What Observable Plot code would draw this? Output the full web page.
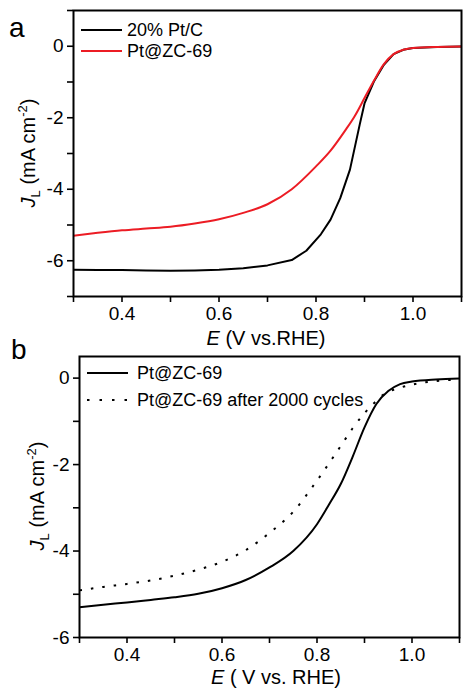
<!DOCTYPE html>
<html>
<head>
<meta charset="utf-8">
<script src="https://cdn.jsdelivr.net/npm/d3@7"></script>
<script src="https://cdn.jsdelivr.net/npm/@observablehq/plot@0.6"></script>
<style>
  body { margin: 0; background: #fff; }
  #fig { position: relative; width: 474px; height: 696px; font-family: "Liberation Sans", Arial, sans-serif; }
  #fig svg { position: absolute; left: 0; overflow: visible; }
</style>
</head>
<body>
<div id="fig"></div>
<script>
// Axis ticks (shared by both panels)
const xTicks = [0.3, 0.4, 0.5, 0.6, 0.7, 0.8, 0.9, 1.0, 1.1];
const xTickLabels = [0.4, 0.6, 0.8, 1.0];
const yTicksA = [-7, -6, -5, -4, -3, -2, -1, 0, 1];
const yTicksB = [-6, -5, -4, -3, -2, -1, 0];
const yTickLabels = [-6, -4, -2, 0];

// Panel a: 20% Pt/C
const ptcE = [0.30, 0.35, 0.40, 0.45, 0.50, 0.55, 0.60, 0.65, 0.70, 0.75, 0.78, 0.81, 0.83, 0.85, 0.87, 0.89, 0.90, 0.92, 0.94, 0.96, 0.98, 1.00, 1.05, 1.10];
const ptcJ = [-6.25, -6.26, -6.26, -6.27, -6.28, -6.27, -6.25, -6.21, -6.13, -5.98, -5.72, -5.26, -4.85, -4.25, -3.45, -2.2, -1.6, -0.97, -0.52, -0.22, -0.1, -0.05, -0.02, -0.01];

// Panel a: Pt@ZC-69
const zcE = [0.30, 0.35, 0.40, 0.45, 0.50, 0.55, 0.60, 0.65, 0.70, 0.75, 0.80, 0.83, 0.86, 0.88, 0.90, 0.92, 0.94, 0.96, 0.98, 1.00, 1.05, 1.10];
const zcJ = [-5.30, -5.22, -5.15, -5.10, -5.05, -4.96, -4.84, -4.66, -4.42, -4.0, -3.36, -2.92, -2.36, -1.95, -1.45, -0.95, -0.5, -0.22, -0.1, -0.05, -0.02, -0.01];

// Panel b: Pt@ZC-69, fresh
const freshE = [0.30, 0.35, 0.40, 0.45, 0.50, 0.55, 0.60, 0.65, 0.70, 0.75, 0.80, 0.825, 0.85, 0.875, 0.90, 0.925, 0.95, 0.975, 1.00, 1.05, 1.10];
const freshJ = [-5.30, -5.24, -5.19, -5.13, -5.07, -4.99, -4.86, -4.67, -4.38, -4.0, -3.38, -2.93, -2.45, -1.82, -1.14, -0.6, -0.3, -0.14, -0.08, -0.03, -0.01];

// Panel b: Pt@ZC-69 after 2000 cycles
const cycledE = [0.30, 0.35, 0.40, 0.45, 0.50, 0.55, 0.60, 0.65, 0.70, 0.75, 0.80, 0.85, 0.875, 0.90, 0.92, 0.935, 0.95, 0.975, 1.00, 1.05, 1.10];
const cycledJ = [-4.91, -4.83, -4.76, -4.68, -4.57, -4.43, -4.25, -3.98, -3.58, -3.09, -2.37, -1.57, -1.16, -0.81, -0.58, -0.42, -0.32, -0.22, -0.15, -0.07, -0.03];

const red = "#ec1c24";
const font = "'Liberation Sans', Arial, sans-serif";
const rows = (xs, ys) => xs.map((x, i) => ({E: x, J: ys[i]}));
const fmtX = d => xTickLabels.some(v => Math.abs(v - d) < 1e-9) ? d.toFixed(1) : "";
const fmtY = d => yTickLabels.includes(d) ? String(d) : "";

function panel({top, height, margin, yDomain, yTicks, series}) {
  const svg = Plot.plot({
    width: 474,
    height,
    marginTop: margin.top,
    marginBottom: margin.bottom,
    marginLeft: margin.left,
    marginRight: margin.right,
    style: {fontFamily: font, fontSize: "19px", color: "black", background: "transparent"},
    x: {domain: [0.3, 1.1]},
    y: {domain: yDomain},
    marks: [
      Plot.axisX({ticks: xTicks, tickFormat: fmtX, tickSize: 6, tickPadding: 4, strokeWidth: 1.6, label: null}),
      Plot.axisY({ticks: yTicks, tickFormat: fmtY, tickSize: 6, tickPadding: 4, strokeWidth: 1.6, label: null}),
      ...series.map(s => Plot.line(rows(s.x, s.y), {
        x: "E", y: "J", stroke: s.color, strokeWidth: 2, curve: s.curve,
        strokeDasharray: s.dash, strokeLinecap: "butt"
      })),
      Plot.frame({stroke: "black", strokeWidth: 2})
    ]
  });
  svg.style.top = top + "px";
  document.getElementById("fig").appendChild(svg);
  return d3.select(svg);
}

function xTitle(sel, cx, y, rest) {
  const t = sel.append("text").attr("x", cx).attr("y", y).attr("text-anchor", "middle")
    .attr("font-size", 20).attr("fill", "black");
  t.append("tspan").attr("font-style", "italic").text("E");
  t.append("tspan").text(rest);
}

function yTitle(sel, x, cy) {
  const t = sel.append("text").attr("transform", `translate(${x},${cy}) rotate(-90)`)
    .attr("text-anchor", "middle").attr("dy", "0.35em").attr("font-size", 20).attr("fill", "black");
  t.append("tspan").attr("font-style", "italic").text("J");
  t.append("tspan").attr("font-size", 13).attr("dy", 5).text("L");
  t.append("tspan").attr("dy", -5).text(" (mA cm");
  t.append("tspan").attr("font-size", 13).attr("dy", -8).text("-2");
  t.append("tspan").attr("dy", 8).text(")");
}

function legendRow(sel, x0, x1, tx, y, label, stroke, dash) {
  sel.append("line").attr("x1", x0).attr("x2", x1).attr("y1", y).attr("y2", y)
    .attr("stroke", stroke).attr("stroke-width", 2).attr("stroke-dasharray", dash || null);
  sel.append("text").attr("x", tx).attr("y", y).attr("dy", "0.35em").attr("text-anchor", "start")
    .attr("font-size", 18).attr("fill", "black").text(label);
}

function letter(sel, x, y, s) {
  sel.append("text").attr("x", x).attr("y", y).attr("text-anchor", "start")
    .attr("font-size", 28).attr("fill", "black").text(s);
}

// Panel a
const a = panel({
  top: 0, height: 340,
  margin: {top: 10, bottom: 44, left: 73, right: 13},
  yDomain: [-7, 1], yTicks: yTicksA,
  series: [
    {x: ptcE, y: ptcJ, color: "black", curve: "linear"},
    {x: zcE, y: zcJ, color: red, curve: "monotone-x"}
  ]
});
letter(a, 9, 37, "a");
xTitle(a, 266, 345, " (V vs.RHE)");
yTitle(a, 28, 153);
legendRow(a, 81, 122, 127, 30, "20% Pt/C", "black");
legendRow(a, 81, 122, 127, 51, "Pt@ZC-69", red);

// Panel b
const b = panel({
  top: 340, height: 356,
  margin: {top: 16, bottom: 59, left: 79, right: 15},
  yDomain: [-6, 0.5], yTicks: yTicksB,
  series: [
    {x: freshE, y: freshJ, color: "black", curve: "monotone-x"},
    {x: cycledE, y: cycledJ, color: "black", curve: "monotone-x", dash: "2.5 9"}
  ]
});
letter(b, 11, 19, "b");
xTitle(b, 276, 344, " ( V vs. RHE)");
yTitle(b, 37, 156);
legendRow(b, 87, 128, 137, 33, "Pt@ZC-69", "black");
legendRow(b, 87, 128, 137, 60, "Pt@ZC-69 after 2000 cycles", "black", "2.5 10");
</script>
</body>
</html>
